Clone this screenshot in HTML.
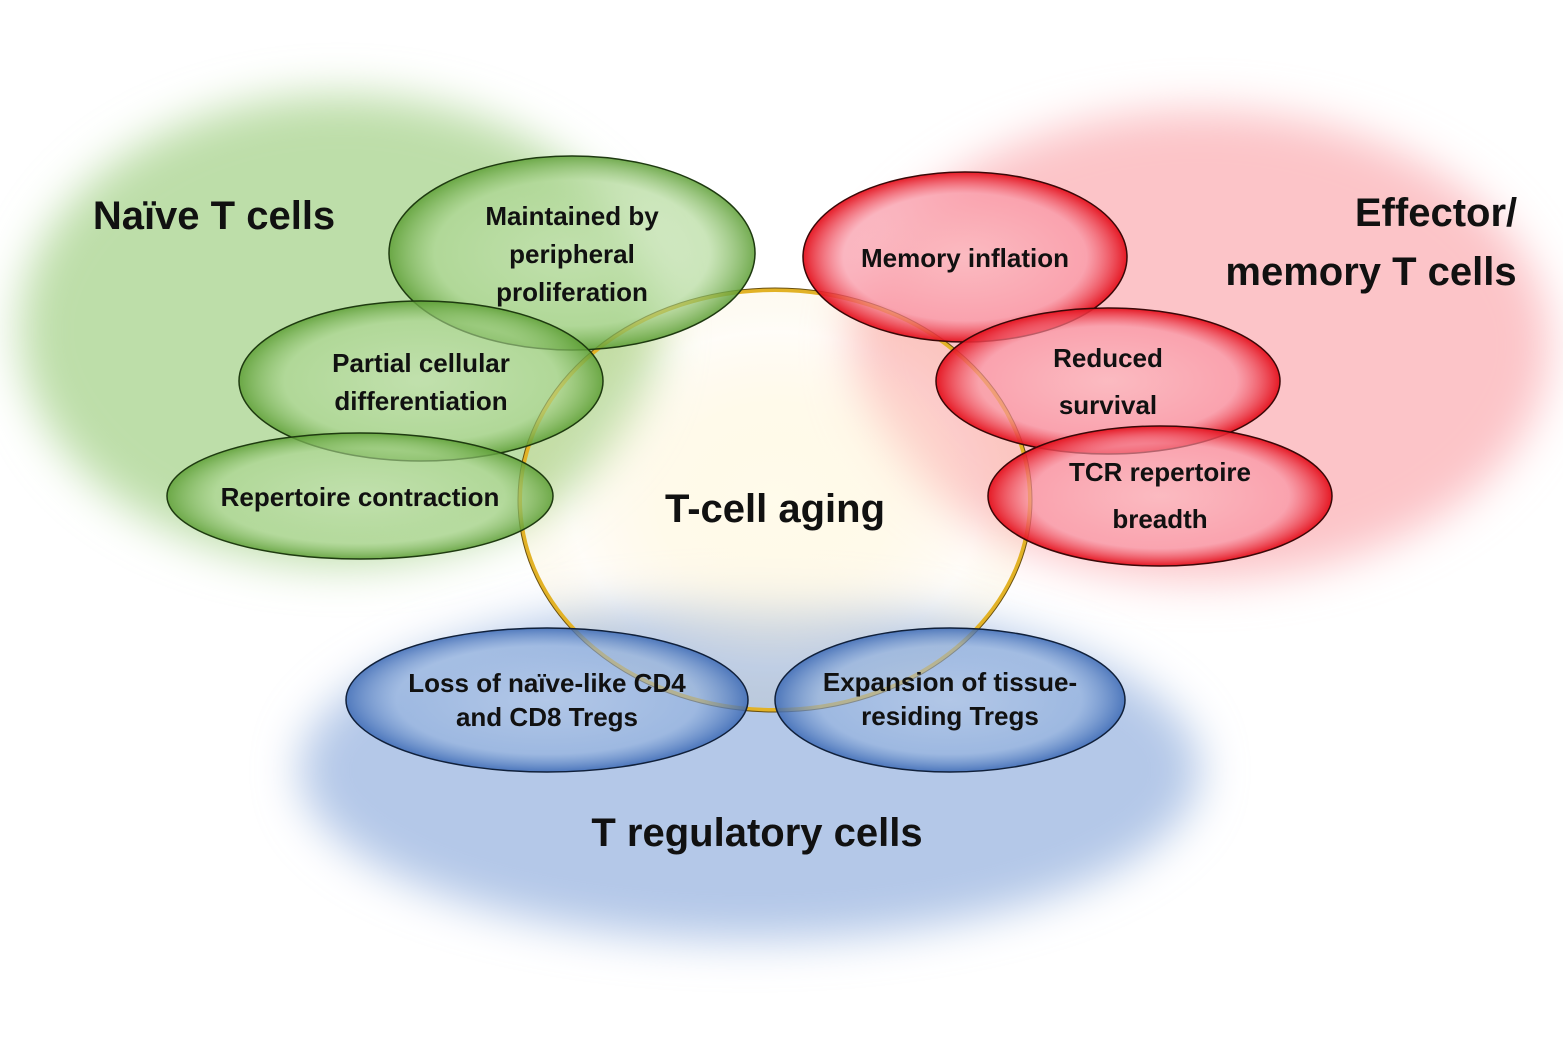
<!DOCTYPE html>
<html><head><meta charset="utf-8"><style>
html,body{margin:0;padding:0;background:#fff;}
svg{display:block}
text{font-family:"Liberation Sans",sans-serif;font-weight:bold;fill:#111;text-anchor:middle}
</style></head><body>
<svg width="1563" height="1042" viewBox="0 0 1563 1042" xmlns="http://www.w3.org/2000/svg">
<defs>
<filter id="blur" x="-30%" y="-30%" width="160%" height="160%"><feGaussianBlur stdDeviation="22"/></filter>
<radialGradient id="gG"><stop offset="0" stop-color="#c4e2b0" stop-opacity="0.55"/><stop offset="0.75" stop-color="#a8d48c" stop-opacity="0.6"/><stop offset="1" stop-color="#5c9e34" stop-opacity="0.85"/></radialGradient>
<radialGradient id="gR"><stop offset="0" stop-color="#fbb4bc" stop-opacity="0.6"/><stop offset="0.75" stop-color="#f890a0" stop-opacity="0.65"/><stop offset="1" stop-color="#e4101c" stop-opacity="0.95"/></radialGradient>
<radialGradient id="gB"><stop offset="0" stop-color="#b0c6e6" stop-opacity="0.55"/><stop offset="0.75" stop-color="#8eaedc" stop-opacity="0.6"/><stop offset="1" stop-color="#3a68b4" stop-opacity="0.85"/></radialGradient>
<radialGradient id="gC"><stop offset="0" stop-color="#fffbea" stop-opacity="0.95"/><stop offset="0.45" stop-color="#fff6dc" stop-opacity="0.6"/><stop offset="0.8" stop-color="#fff0d0" stop-opacity="0.15"/><stop offset="1" stop-color="#f0d070" stop-opacity="0.1"/></radialGradient>
</defs>
<ellipse cx="340" cy="330" rx="320" ry="235" fill="#bddea9" filter="url(#blur)"/>
<ellipse cx="1200" cy="345" rx="350" ry="235" fill="#fcc4c8" filter="url(#blur)"/>
<ellipse cx="750" cy="770" rx="450" ry="170" fill="#b4c8e8" filter="url(#blur)"/>
<ellipse cx="775" cy="500" rx="255" ry="210" fill="url(#gC)" stroke="#e2b226" stroke-width="4"/>
<ellipse cx="775" cy="500" rx="257" ry="212" fill="none" stroke="#6a5010" stroke-width="1"/>
<g stroke="#1e3a10" stroke-width="1.5">
<ellipse cx="572" cy="253" rx="183" ry="97" fill="url(#gG)"/>
<ellipse cx="421" cy="381" rx="182" ry="80" fill="url(#gG)"/>
<ellipse cx="360" cy="496" rx="193" ry="63" fill="url(#gG)"/>
</g>
<g stroke="#3a0808" stroke-width="1.5">
<ellipse cx="965" cy="257" rx="162" ry="85" fill="url(#gR)"/>
<ellipse cx="1108" cy="381" rx="172" ry="73" fill="url(#gR)"/>
<ellipse cx="1160" cy="496" rx="172" ry="70" fill="url(#gR)"/>
</g>
<g stroke="#10203a" stroke-width="1.5">
<ellipse cx="547" cy="700" rx="201" ry="72" fill="url(#gB)"/>
<ellipse cx="950" cy="700" rx="175" ry="72" fill="url(#gB)"/>
</g>
<text x="214" y="229" font-size="40">Naïve T cells</text>
<text x="1436" y="226" font-size="40">Effector/</text>
<text x="1371" y="285" font-size="40">memory T cells</text>
<text x="757" y="846" font-size="40">T regulatory cells</text>
<text x="775" y="522" font-size="40">T-cell aging</text>
<g font-size="26">
<text x="572" y="225">Maintained by</text>
<text x="572" y="263">peripheral</text>
<text x="572" y="301">proliferation</text>
<text x="421" y="372">Partial cellular</text>
<text x="421" y="410">differentiation</text>
<text x="360" y="506">Repertoire contraction</text>
<text x="965" y="267">Memory inflation</text>
<text x="1108" y="367">Reduced</text>
<text x="1108" y="414">survival</text>
<text x="1160" y="481">TCR repertoire</text>
<text x="1160" y="528">breadth</text>
<text x="547" y="692">Loss of naïve-like CD4</text>
<text x="547" y="726">and CD8 Tregs</text>
<text x="950" y="691">Expansion of tissue-</text>
<text x="950" y="725">residing Tregs</text>
</g>
</svg>
</body></html>
